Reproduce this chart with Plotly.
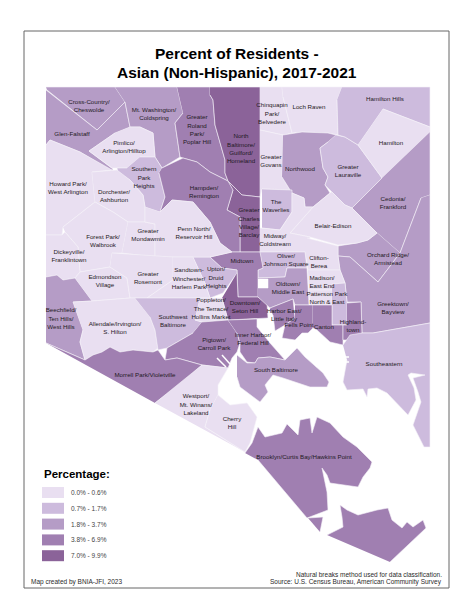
import plotly.graph_objects as go

# class breaks from the legend
break_labels = ['0.0% - 0.6%', '0.7% - 1.7%', '1.8% - 3.7%', '3.8% - 6.9%', '7.0% - 9.9%']
break_colors = ['#E9DFF1', '#CDBBDD', '#B59CC6', '#A07FB1', '#8B6399']

# neighborhood, class (0-4), outline
areas = [
    ('Cross-Country/Cheswolde', 2, [(46,87),(115,87),(125,102),(97,130),(47,90)]),
    ('Glen-Falstaff', 2, [(46,90),(97,130),(125,102),(130,127),(115,133),(89,151),(113,169),(112,171),(80,152),(50,140),(46,145)]),
    ('Mt. Washington/Coldspring', 2, [(115,87),(177,87),(183,113),(175,123),(180,157),(162,168),(155,157),(153,133),(140,127),(130,127),(125,102)]),
    ('Pimlico/Arlington/Hilltop', 0, [(130,127),(140,127),(153,133),(155,157),(140,157),(127,168),(117,168),(112,168),(89,151),(115,133)]),
    ('Southern Park Heights', 1, [(140,157),(155,157),(162,168),(159,173),(165,197),(160,212),(145,207),(143,195),(130,180),(118,173),(117,168),(127,168)]),
    ('Greater Roland Park/Poplar Hill', 3, [(177,87),(210,87),(210,95),(213,100),(215,125),(225,160),(225,173),(228,181),(210,172),(197,162),(183,158),(180,157),(175,123),(183,113)]),
    ('North Baltimore/Guilford/Homeland', 4, [(210,87),(260,87),(260,197),(242,195),(228,181),(225,173),(225,160),(215,125),(213,100),(210,95)]),
    ('Greater Charles Village/Barclay', 4, [(228,181),(242,195),(260,197),(260,252),(240,252),(240,217),(227,210),(233,190)]),
    ('Hampden/Remington', 3, [(162,168),(183,158),(197,162),(210,172),(228,181),(233,190),(227,210),(240,217),(240,252),(232,252),(220,243),(210,222),(193,202),(172,200),(160,212),(165,197),(159,173)]),
    ('Chinquapin Park/Belvedere', 0, [(260,87),(282,87),(283,97),(292,133),(283,135),(260,130)]),
    ('Loch Raven', 0, [(282,87),(342,87),(337,100),(338,135),(328,133),(302,132),(292,133),(283,97)]),
    ('Greater Govans', 0, [(260,130),(283,135),(282,177),(290,190),(262,189),(260,197)]),
    ('Northwood', 2, [(283,135),(302,132),(328,133),(336,135),(328,142),(320,148),(323,168),(328,177),(325,185),(330,193),(313,207),(305,207),(304,198),(292,193),(282,177)]),
    ('Greater Lauraville', 1, [(336,135),(345,137),(358,145),(382,178),(352,208),(345,205),(332,192),(325,185),(328,177),(323,168),(320,148),(328,142)]),
    ('Hamilton Hills', 1, [(342,87),(430,87),(430,127),(383,109),(358,145),(345,137),(338,135),(337,100)]),
    ('Hamilton', 0, [(383,109),(430,127),(430,132),(382,178),(358,145)]),
    ('Cedonia/Frankford', 2, [(430,132),(430,195),(421,198),(400,253),(376,232),(352,208),(382,178)]),
    ('Orchard Ridge/Armistead', 2, [(400,253),(378,282),(350,257),(338,256),(338,246),(357,243),(368,240),(377,233),(376,232)]),
    ('Greektown/Bayview', 2, [(430,195),(430,323),(373,333),(362,333),(361,302),(347,302),(345,283),(340,270),(338,256),(350,257),(378,282),(400,253),(421,198)]),
    ('Belair-Edison', 0, [(332,192),(345,205),(352,208),(377,233),(368,240),(357,243),(338,245),(310,237),(290,233),(313,207),(330,193)]),
    ('The Waverlies', 1, [(262,189),(292,190),(292,212),(280,230),(262,228)]),
    ('Midway/Coldstream', 0, [(260,228),(280,230),(292,212),(292,193),(304,198),(305,207),(313,207),(290,233),(310,237),(306,252),(260,252)]),
    ('Clifton-Berea', 0, [(307,238),(338,246),(338,256),(340,270),(308,270),(305,252)]),
    ('Oliver/Johnson Square', 1, [(260,252),(305,252),(307,268),(287,268),(285,277),(258,278),(258,270),(263,268)]),
    ('Midtown', 3, [(210,257),(232,252),(260,252),(263,268),(258,270),(258,297),(238,297),(237,273),(237,270),(222,268)]),
    ('Upton/Druid Heights', 1, [(193,257),(210,257),(222,268),(237,270),(237,273),(223,293),(210,298),(205,283)]),
    ('Downtown/Seton Hill', 4, [(237,273),(238,297),(258,297),(267,303),(268,318),(228,320),(222,298)]),
    ('Oldtown/Middle East', 2, [(258,278),(285,277),(287,268),(307,268),(309,305),(295,305),(293,299),(270,308),(258,297)]),
    ('Madison/East End', 0, [(308,270),(340,270),(345,283),(332,284),(332,290),(309,290)]),
    ('Patterson Park North & East', 0, [(309,290),(332,290),(332,305),(310,305)]),
    ('Patterson Park', 1, [(332,284),(345,283),(347,302),(347,325),(332,325),(332,305)]),
    ('Harbor East/Little Italy', 3, [(270,308),(293,299),(295,318),(285,325),(275,331),(273,315)]),
    ('Fells Point', 3, [(295,305),(313,305),(313,328),(308,333),(302,333),(295,340),(282,338),(285,325),(295,318)]),
    ('Canton', 3, [(313,305),(332,305),(332,325),(343,325),(343,345),(330,342),(317,330),(313,328)]),
    ('Highlandtown', 3, [(347,303),(361,302),(362,333),(353,340),(343,340),(343,325),(347,325)]),
    ('Southeastern', 1, [(343,345),(350,335),(362,333),(373,333),(430,323),(430,447),(424,447),(413,425),(421,402),(418,392),(413,378),(425,375),(411,373),(408,375),(414,388),(416,400),(408,415),(387,393),(377,388),(368,389),(367,397),(363,389),(347,390),(343,382),(347,360)]),
    ('Howard Park/West Arlington', 0, [(46,145),(50,140),(80,152),(112,170),(92,172),(95,202),(63,227),(62,235),(46,235)]),
    ('Dorchester/Ashburton', 0, [(92,172),(117,170),(130,180),(143,195),(145,207),(145,222),(128,222),(113,212),(95,202)]),
    ('Forest Park/Walbrook', 0, [(63,227),(95,202),(113,212),(128,222),(122,253),(112,253),(110,267),(80,272),(78,247),(65,232)]),
    ('Dickeyville/Franklintown', 0, [(46,235),(62,235),(65,232),(78,247),(80,272),(75,278),(63,280),(57,275),(46,277)]),
    ('Beechfield/Ten Hills/West Hills', 2, [(46,277),(57,275),(63,280),(75,278),(92,301),(73,302),(83,330),(80,342),(85,360),(46,343)]),
    ('Edmondson Village', 0, [(75,278),(80,272),(110,267),(127,278),(130,298),(92,301)]),
    ('Greater Mondawmin', 0, [(128,222),(145,222),(155,224),(155,257),(122,253)]),
    ('Penn North/Reservoir Hill', 0, [(160,212),(172,200),(193,202),(210,222),(220,243),(232,252),(210,257),(155,257),(155,224),(145,222),(145,207)]),
    ('Greater Rosemont', 0, [(112,253),(173,257),(173,280),(147,298),(130,298),(127,278),(110,267)]),
    ('Sandtown-Winchester/Harlem Park', 0, [(173,257),(193,257),(205,283),(210,298),(147,298),(173,280)]),
    ('Allendale/Irvington/S. Hilton', 0, [(73,302),(92,301),(130,298),(135,298),(150,317),(155,330),(158,348),(153,352),(133,350),(120,352),(110,347),(102,352),(93,355),(85,360),(80,342),(83,330)]),
    ('Southwest Baltimore', 1, [(135,298),(200,298),(195,320),(202,322),(193,333),(167,348),(158,350),(155,330),(150,317)]),
    ('Poppleton/The Terrace/Hollins Market', 0, [(200,298),(222,298),(228,320),(202,322),(195,320)]),
    ('Pigtown/Carroll Park', 3, [(202,322),(228,320),(237,333),(240,343),(237,352),(232,358),(228,368),(202,365),(177,358),(165,360),(167,348),(193,333)]),
    ('Inner Harbor/Federal Hill', 3, [(228,320),(257,319),(257,327),(270,343),(285,360),(270,357),(258,358),(255,363),(247,362),(240,352),(240,343),(237,333)]),
    ('South Baltimore', 2, [(237,355),(247,363),(255,363),(258,358),(270,357),(285,360),(297,348),(305,357),(323,373),(329,382),(327,387),(310,387),(283,378),(273,375),(265,385),(268,392),(260,402),(240,387),(237,377)]),
    ('Morrell Park/Violetville', 3, [(46,343),(85,360),(93,355),(102,352),(110,347),(120,352),(133,350),(153,352),(158,350),(165,360),(177,358),(202,365),(182,383),(155,403)]),
    ('Westport/Mt. Winans/Lakeland', 0, [(155,403),(202,365),(228,368),(218,385),(218,395),(210,410),(205,427),(245,452)]),
    ('Cherry Hill', 0, [(218,395),(230,405),(247,403),(257,417),(250,443),(245,452),(205,427),(210,410)]),
    ('Brooklyn/Curtis Bay/Hawkins Point', 3, [(245,453),(252,443),(258,427),(265,437),(282,433),(287,424),(298,435),(300,420),(310,418),(312,433),(317,417),(330,423),(343,437),(357,447),(372,462),(370,468),(363,477),(358,487),(330,483),(327,475),(322,468),(327,492),(328,510),(307,518),(258,460)]),
    ('Hawkins Point', 3, [(308,518),(323,517),(320,532)]),
    ('Hawkins Point South', 3, [(327,535),(343,527),(342,517),(340,505),(347,510),(358,515),(377,510),(388,508),(392,520),(402,528),(407,522),(413,527),(423,520),(426,528),(390,562)]),
]

# the unshaded block next to Oldtown
no_data_block = [(258,279),(268,279),(268,288),(258,288)]

# piers cut into the shoreline
piers = [[(313,360),(317,367)], [(318,362),(323,370)], [(341,357),(349,357)], [(341,362),(349,362)],
         [(217,358),(226,367)], [(222,355),(230,364)], [(266,320),(268,333)], [(262,320),(264,331)], [(275,421),(277,431)]]

# label text and where it sits
label_text = ['Cross-Country/<br>Cheswolde','Glen-Falstaff','Mt. Washington/<br>Coldspring','Greater<br>Roland<br>Park/<br>Poplar Hill',
    'North<br>Baltimore/<br>Guilford/<br>Homeland','Chinquapin<br>Park/<br>Belvedere','Loch Raven','Hamilton Hills','Hamilton',
    'Pimlico/<br>Arlington/Hilltop','Southern<br>Park<br>Heights','Howard Park/<br>West Arlington','Dorchester/<br>Ashburton',
    'Hampden/<br>Remington','Greater<br>Govans','Northwood','Greater<br>Lauraville','Cedonia/<br>Frankford','The<br>Waverlies',
    'Greater<br>Charles<br>Village/<br>Barclay','Belair-Edison','Midway/<br>Coldstream','Greater<br>Mondawmin','Penn North/<br>Reservoir Hill',
    'Forest Park/<br>Walbrook','Dickeyville/<br>Franklintown','Orchard Ridge/<br>Armistead','Oliver/<br>Johnson Square','Clifton-<br>Berea',
    'Midtown','Madison/<br>East End','Edmondson<br>Village','Greater<br>Rosemont','Sandtown-<br>Winchester/<br>Harlem Park','Upton/<br>Druid<br>Heights',
    'Oldtown/<br>Middle East','Patterson Park<br>North & East','Greektown/<br>Bayview','Poppleton/<br>The Terrace/<br>Hollins Market',
    'Downtown/<br>Seton Hill','Southwest<br>Baltimore','Allendale/Irvington/<br>S. Hilton','Beechfield/<br>Ten Hills/<br>West Hills',
    'Harbor East/<br>Little Italy','Fells Point','Canton','Highland-<br>town','Pigtown/<br>Carroll Park','Inner Harbor/<br>Federal Hill',
    'South Baltimore','Southeastern','Morrell Park/Violetville','Westport/<br>Mt. Winans/<br>Lakeland','Cherry<br>Hill','Brooklyn/Curtis Bay/Hawkins Point']
label_x = [89,72,154,197,241,272,309,385,391,124,144,68,114,204,271,300,348,393,276,249,333,275,148,194,103,69,388,286,319,
    242,322,105,148,189,216,288,327,393,211,245,173,115,61,284,299,324,353,214,253,276,384,145,196,232,304]
label_y = [106,134,114,130,149,114,107,99,143,147,178,188,196,192,161,169,171,203,206,223,226,240,235,233,241,256,259,260,262,
    261,282,281,278,279,278,288,298,308,309,307,321,328,319,315,325,327,326,344,339,370,364,375,405,423,457]

fig = go.Figure()

for name, cls, outline in areas:
    fig.add_trace(go.Scatter(x=[p[0] for p in outline], y=[p[1] for p in outline], mode='lines', fill='toself',
                             fillcolor=break_colors[cls], line=dict(color='#F5F1F8', width=0.6), name=name,
                             hoverinfo='name', showlegend=False))

fig.add_trace(go.Scatter(x=[p[0] for p in no_data_block], y=[p[1] for p in no_data_block], mode='lines', fill='toself',
                         fillcolor='white', line=dict(color='white', width=0.5), hoverinfo='skip', showlegend=False))

for pier in piers:
    fig.add_trace(go.Scatter(x=[p[0] for p in pier], y=[p[1] for p in pier], mode='lines',
                             line=dict(color='white', width=1.5), hoverinfo='skip', showlegend=False))

fig.add_trace(go.Scatter(x=label_x, y=label_y, mode='text', text=label_text, textposition='middle center',
                         textfont=dict(family='Liberation Sans', size=6.2, color='#1f1a24'),
                         hoverinfo='skip', showlegend=False))

def note(x, y, text, size, anchor='left', bold=False, color='#2b2b2b'):
    if bold:
        text = '<b>' + text + '</b>'
    fig.add_annotation(x=x, y=y, text=text, showarrow=False, xanchor=anchor, yanchor='middle',
                       font=dict(family='Liberation Sans', size=size, color=color))

note(237, 53, 'Percent of Residents -', 15.5, 'center', True, 'black')
note(237, 72, 'Asian (Non-Hispanic), 2017-2021', 15.5, 'center', True, 'black')
note(42, 474, 'Percentage:', 11.5, 'left', True, 'black')
for i, lab in enumerate(break_labels):
    top = 487 + i * 15.8
    fig.add_shape(type='rect', x0=42, x1=64, y0=top, y1=top + 11, fillcolor=break_colors[i], line=dict(width=0))
    note(69, top + 5.5, lab, 6.5, color='#444444')
note(29, 582, 'Map created by BNIA-JFI, 2023', 6.5)
note(444, 574, 'Natural breaks method used for data classification.', 6.5, 'right')
note(444, 582, 'Source: U.S. Census Bureau, American Community Survey', 6.5, 'right')

fig.add_shape(type='rect', x0=24, x1=449, y0=31, y1=588, line=dict(color='#666666', width=1))

fig.update_xaxes(range=[0, 474], visible=False, fixedrange=True)
fig.update_yaxes(range=[613, 0], visible=False, fixedrange=True)
fig.update_layout(width=474, height=613, margin=dict(l=0, r=0, t=0, b=0), plot_bgcolor='white', paper_bgcolor='white')

fig.write_html("out.html", config={'displayModeBar': False}, post_script="document.body.style.margin='0';")
